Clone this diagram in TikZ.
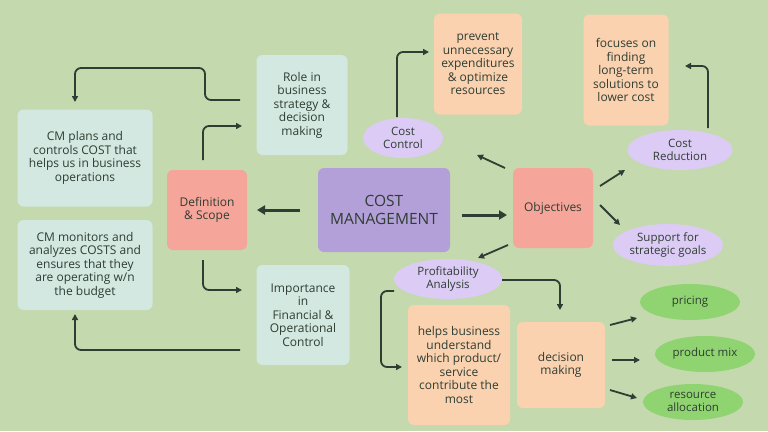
\documentclass[tikz,border=0pt]{standalone}
\usepackage{fontspec}
\setmainfont{Open Sans}
\usetikzlibrary{shapes.geometric,arrows.meta}
\definecolor{bg}{HTML}{C5D9AE}
\definecolor{purp}{HTML}{B3A0D8}
\definecolor{pinkc}{HTML}{F6A59A}
\definecolor{teal}{HTML}{D2E8E0}
\definecolor{peach}{HTML}{FAD2B0}
\definecolor{lav}{HTML}{DCCBF5}
\definecolor{grn}{HTML}{8FD470}
\definecolor{ink}{HTML}{2F3D33}
\tikzset{
 box/.style={rectangle,rounded corners=6pt,align=center,font=\fontsize{12}{13.5}\selectfont,text=ink,inner sep=1pt},
 ell/.style={ellipse,align=center,font=\fontsize{11.5}{12.5}\selectfont,text=ink,inner sep=0pt},
 arr/.style={-{Triangle[length=6pt,width=6pt]},line width=1.8pt,draw=ink,rounded corners=6pt},
 big/.style={-{Triangle[length=8pt,width=9pt]},line width=3pt,draw=ink}
}
\begin{document}
\begin{tikzpicture}[x=1pt,y=-1pt]
\fill[bg] (0,0) rectangle (768,431);
\node[box,fill=purp,minimum width=132pt,minimum height=84pt,font=\fontsize{15.5}{18}\selectfont] (cm) at (384,210) {COST\\MANAGEMENT};
\node[box,fill=pinkc,minimum width=80pt,minimum height=80pt] (def) at (207,210) {Definition\\\& Scope};
\node[box,fill=pinkc,minimum width=80pt,minimum height=80pt] (obj) at (553,208) {Objectives};
\node[box,fill=teal,minimum width=135pt,minimum height=97pt] (plan) at (85,158) {CM plans and\\controls COST that\\helps us in business\\operations};
\node[box,fill=teal,minimum width=135pt,minimum height=90pt] (mon) at (85,265) {CM monitors and\\analyzes COSTS and\\ensures that they\\are operating w/n\\the budget};
\node[box,fill=teal,minimum width=91pt,minimum height=100pt] (role) at (302,105) {Role in\\business\\strategy \&\\decision\\making};
\node[box,fill=teal,minimum width=93pt,minimum height=100pt] (imp) at (303,315) {Importance\\in\\Financial \&\\Operational\\Control};
\node[box,fill=peach,minimum width=88pt,minimum height=101pt] (prev) at (478,64) {prevent\\unnecessary\\expenditures\\\& optimize\\resources};
\node[box,fill=peach,minimum width=85pt,minimum height=111pt] (foc) at (626,70) {focuses on\\finding\\long-term\\solutions to\\lower cost};
\node[box,fill=peach,minimum width=102pt,minimum height=120pt] (help) at (459,365) {helps business\\understand\\which product/\\service\\contribute the\\most};
\node[box,fill=peach,minimum width=88pt,minimum height=86pt] (dec) at (561,365) {decision\\making};
\node[ell,fill=lav,minimum width=80pt,minimum height=40pt] (cc) at (403,138) {Cost\\Control};
\node[ell,fill=lav,minimum width=105pt,minimum height=40pt] (cr) at (680,150) {Cost\\Reduction};
\node[ell,fill=lav,minimum width=110pt,minimum height=42pt] (sup) at (668,245) {Support for\\strategic goals};
\node[ell,fill=lav,minimum width=108pt,minimum height=40pt] (pa) at (448,279) {Profitability\\Analysis};
\node[ell,fill=grn,minimum width=100pt,minimum height=36pt] (pr) at (690,302) {pricing};
\node[ell,fill=grn,minimum width=100pt,minimum height=36pt] (pm) at (705,354) {product mix};
\node[ell,fill=grn,minimum width=100pt,minimum height=36pt] (ra) at (693,402) {resource\\allocation};
\coordinate (c1) at (300,210); \coordinate (c2) at (257,210);
\draw[big] (c1) -- (c2);
\coordinate (c3) at (462,215); \coordinate (c4) at (507,215);
\draw[big] (c3) -- (c4);
\coordinate (d1) at (203,160); \coordinate (d2) at (242,126);
\draw[arr] (d1) |- (d2);
\coordinate (d3) at (203,260); \coordinate (d4) at (242,290);
\draw[arr] (d3) |- (d4);
\coordinate (r1) at (240,100); \coordinate (r2) at (75,102);
\draw[arr] (r1) -- (205,100) -- (205,68) -- (75,68) -- (r2);
\coordinate (i1) at (240,350); \coordinate (i2) at (75,314);
\draw[arr] (i1) -- (75,350) -- (i2);
\coordinate (k1) at (397,117); \coordinate (k2) at (429,52);
\draw[arr] (k1) |- (k2);
\coordinate (k3) at (708,128); \coordinate (k4) at (685,66);
\draw[arr] (k3) |- (k4);
\coordinate (o1) at (505,168); \coordinate (o2) at (477,155);
\draw[arr] (o1) -- (o2);
\draw[arr] (600,186) -- (625,170);
\draw[arr] (600,205) -- (620,225);
\draw[arr] (508,245) -- (478,258);
\coordinate (p1) at (502,280); \coordinate (p2) at (560,310);
\draw[arr] (p1) -| (p2);
\coordinate (p3) at (394,291); \coordinate (p4) at (402,367);
\draw[arr] (p3) -- (381,291) |- (p4);
\draw[arr] (610,325) -- (637,318);
\draw[arr] (612,360) -- (640,360);
\draw[arr] (610,390) -- (637,398);
\end{tikzpicture}
\end{document}
